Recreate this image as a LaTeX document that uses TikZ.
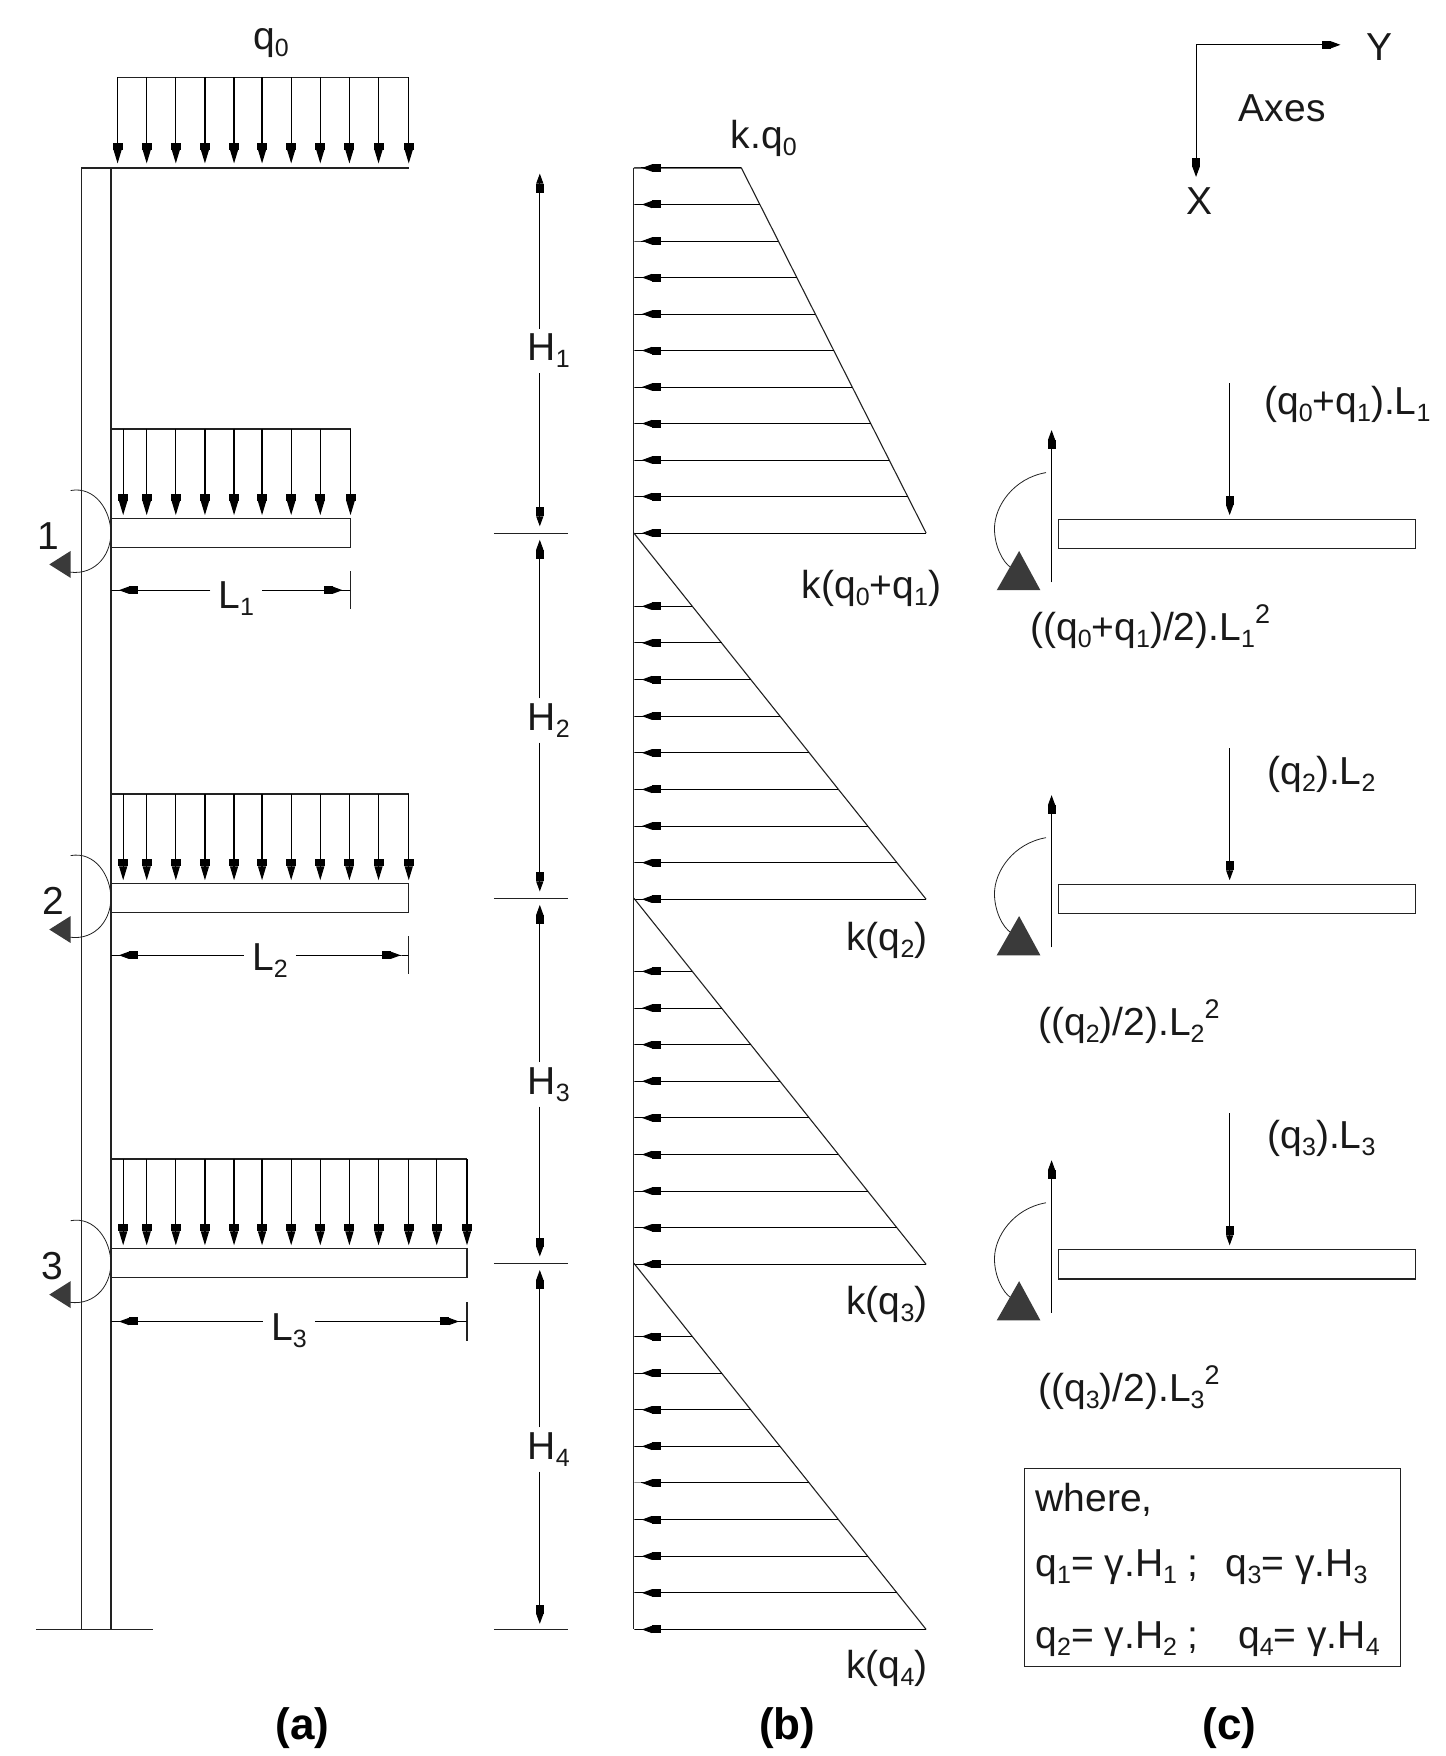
\documentclass[tikz,border=0pt]{standalone}
\usepackage{fontspec}
\setmainfont{Liberation Sans}
\usetikzlibrary{arrows.meta}
\usetikzlibrary{positioning}

\definecolor{inkgrey}{HTML}{222222}
\definecolor{headgrey}{HTML}{3A3A3A}
\newcommand{\sbs}[1]{\raisebox{-7pt}{\fontsize{25}{25}\selectfont #1}}
\newcommand{\sps}[1]{\raisebox{17pt}{\fontsize{27}{27}\selectfont #1}}

\tikzset{
  lbl/.style={font=\fontsize{39}{44}\selectfont, inner sep=5pt, yshift=-1.5pt, text=black!90},
  caption/.style={font=\fontsize{44}{50}\selectfont\bfseries, inner sep=0pt, text=black},
  member/.style={draw=inkgrey, line width=1.3pt},
  thinline/.style={draw=inkgrey, line width=1.1pt},
  loadarrow/.style={draw=black, line width=1.2pt, -{Rectangle[length=7pt, width=10pt] Triangle[length=14pt, width=8pt]}},
  dimarrow/.style={draw=black, line width=1pt, -{Rectangle[length=9pt, width=8pt] Triangle[length=10pt, width=7pt]}},
  offsetarrow/.style={draw=black, line width=1pt, -{Rectangle[length=9pt, width=8pt] Triangle[length=10pt, width=7pt] Rectangle[length=8pt, width=1pt]}},
  moment/.style={draw=inkgrey, line width=0.8pt},
  momenthead/.style={fill=headgrey, draw=none},
}

\begin{document}
\begin{tikzpicture}[x=1.12pt, y=-1.12pt]

    \useasboundingbox (0,0) rectangle (1291,1568);

    % column and roof
    \draw[member] (73,1455) -- (73,150) -- (365,150);
    \draw[member] (99,150) -- (99,1455);
    \draw[member] (32,1455) -- (137,1455);

    % distributed loads
    \foreach \ytop/\xleft/\xend/\xs in {69/105/365/{105,131,157,183,209,234,260,286,312,338,365},
                                 383/99/313/{110,131,157,183,209,234,260,286,313},
                                 709/99/365/{110,131,157,183,209,234,260,286,312,338,365},
                                 1035/99/417/{110,131,157,183,209,234,260,286,312,338,365,390,417}}{
      \draw[member] (\xleft,\ytop) -- (\xend,\ytop);
      \foreach \x in \xs {
        \draw[loadarrow] (\x,\ytop) -- (\x,\ytop+77);
      }
    }

    \node[lbl] (qzero) at (242,37) {q\sbs{0}};

    % floor slabs with span dimension and moment
    \foreach \c/\xend/\ydim/\n/\xlab/\ylab/\xnum in {476/313/527/1/211/533/43, 802/365/853/2/241/856/48, 1128/417/1180/3/258/1187/47}{
      \draw[member] (99,\c-13) rectangle (\xend,\c+13);
      \draw[thinline] (\xend,\ydim-17) -- (\xend,\ydim+17);
      \coordinate (spanL\n) at (99,\ydim);
      \coordinate (spanR\n) at (\xend,\ydim);
      \node[lbl, inner xsep=8pt] (span\n) at (\xlab,\ylab) {L\sbs{\n}};
      \draw[offsetarrow] (span\n.west |- spanL\n) -- (spanL\n);
      \draw[offsetarrow] (span\n.east |- spanR\n) -- (spanR\n);
      \node[lbl] (floor\n) at (\xnum,\c+1) {\n};
      \draw[moment] (63,\c-38) .. controls (85,\c-42) and (99,\c-20) .. (99,\c)
                    .. controls (99,\c+22) and (82,\c+40) .. (58,\c+34);
      \fill[momenthead] (44,\c+28) -- (63,\c+16) -- (63,\c+40) -- cycle;
    }

    % pressure on the wall
    \draw[thinline] (566,150) -- (566,1455);
    \draw[thinline] (566,150) -- (662,150) -- (827,476);
    \foreach \k in {0,...,10}{
      \draw[offsetarrow] ({662+\k*16.5},{150+\k*32.6}) -- (566,{150+\k*32.6});
    }
    \foreach \ytop in {476,802,1128}{
      \draw[thinline] (566,\ytop) -- (827,\ytop+327);
      \foreach \k in {2,...,10}{
        \draw[offsetarrow] ({566+\k*26.1},{\ytop+\k*32.7}) -- (566,{\ytop+\k*32.7});
      }
    }

    % height dimensions
    \foreach \ylev in {476,802,1128,1455}{
      \draw[thinline] (441,\ylev) -- (507,\ylev);
    }
    \foreach \n/\ytop/\ybot/\ylab in {1/155/470/312, 2/482/796/642, 3/808/1122/967, 4/1134/1450/1293}{
      \coordinate (Htop\n) at (482,\ytop);
      \coordinate (Hbot\n) at (482,\ybot);
      \node[lbl] (H\n) at (490,\ylab) {H\sbs{\n}};
      \draw[dimarrow] (H\n.north -| Htop\n) -- (Htop\n);
      \draw[dimarrow] (H\n.south -| Hbot\n) -- (Hbot\n);
    }

    \node[lbl] (ktop) at (682,122) {k.q\sbs{0}};
    \node[lbl] (kone) at (778,524) {k(q\sbs{0}+q\sbs{1})};
    \node[lbl] (ktwo) at (792,838) {k(q\sbs{2})};
    \node[lbl] (kthree) at (792,1163) {k(q\sbs{3})};
    \node[lbl] (kfour) at (792,1488) {k(q\sbs{4})};

    % axes
    \coordinate (origin) at (1068,40);
    \coordinate (axisY) at (1197,40);
    \coordinate (axisX) at (1068,158);
    \draw[dimarrow] (origin) -- (axisY);
    \draw[dimarrow] (origin) -- (axisX);
    \node[lbl] (Ylabel) at (1232,41) {Y};
    \node[lbl] (Xlabel) at (1071,178) {X};
    \node[lbl] (Axes) at (1145,95) {Axes};

    % reactions on the cantilevers
    \foreach \c/\n in {477/1, 803/2, 1129/3}{
      \draw[member] (945,\c-13) rectangle (1264,\c+13);
      \draw[dimarrow] (1098,\c-135) -- (1098,\c-17);
      \draw[dimarrow] (939,\c+43) -- (939,\c-93);
      \draw[moment] (934,\c-55) .. controls (905,\c-50) and (888,\c-25) .. (888,\c-5)
                    .. controls (888,\c+10) and (895,\c+25) .. (903,\c+30);
      \fill[momenthead] (910,\c+15) -- (929,\c+50) -- (890,\c+50) -- cycle;
    }

    \node[lbl] (forceone) at (1203,360) {(q\sbs{0}+q\sbs{1}).L\sbs{1}};
    \node[lbl] (forcetwo) at (1180,690) {(q\sbs{2}).L\sbs{2}};
    \node[lbl] (forcethree) at (1180,1015) {(q\sbs{3}).L\sbs{3}};
    \node[lbl] (momentone) at (1027,558) {((q\sbs{0}+q\sbs{1})/2).L\sbs{1}\sps{2}};
    \node[lbl] (momenttwo) at (1008,911) {((q\sbs{2})/2).L\sbs{2}\sps{2}};
    \node[lbl] (momentthree) at (1008,1238) {((q\sbs{3})/2).L\sbs{3}\sps{2}};

    % definitions
    \node[member, minimum width=376pt, minimum height=198pt, inner sep=0pt] (defbox) at (1082.5,1399.5) {};
    \node[lbl, anchor=west] (where) at (920,1338) {where,};
    \node[lbl, anchor=west] (qone) at (920,1398) {q\sbs{1}= γ.H\sbs{1} ;};
    \node[lbl, anchor=west] (qthree) at (1090,1398) {q\sbs{3}= γ.H\sbs{3}};
    \node[lbl, anchor=west] (qtwo) at (920,1462) {q\sbs{2}= γ.H\sbs{2} ;};
    \node[lbl, anchor=west] (qfour) at (1101,1462) {q\sbs{4}= γ.H\sbs{4}};

    \node[caption] (capA) at (270,1543) {(a)};
    \node[caption] (capB) at (703,1543) {(b)};
    \node[caption] (capC) at (1098,1543) {(c)};

\end{tikzpicture}
\end{document}
